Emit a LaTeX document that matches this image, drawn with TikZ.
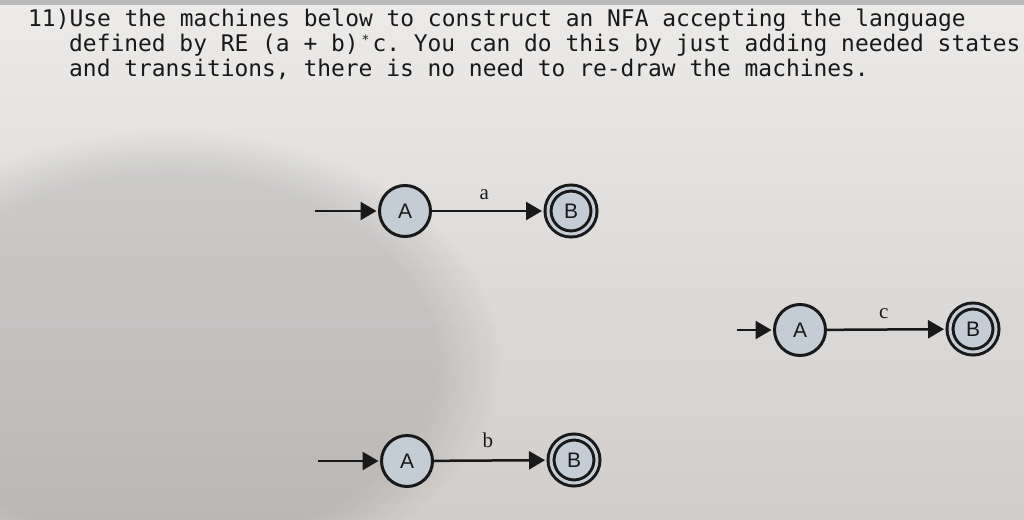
\documentclass[tikz,border=0pt]{standalone}
\usepackage{fontspec}
\setmainfont{Liberation Serif}
\setsansfont{Liberation Sans}
\setmonofont{DejaVu Sans Mono}
\usetikzlibrary{arrows.meta,fadings}
\definecolor{papertop}{RGB}{236,235,234}
\definecolor{paperbot}{RGB}{208,205,203}
\definecolor{statefill}{RGB}{196,204,214}
\definecolor{ink}{RGB}{25,25,25}
\tikzset{
  question/.style={anchor=base west,inner sep=0pt,font=\ttfamily\fontsize{22.9}{24}\selectfont,text=ink},
  state/.style={circle,draw=ink,fill=statefill,line width=3pt,minimum size=51pt,inner sep=0pt,font=\sffamily\fontsize{21}{21}\selectfont,text=ink},
  accept/.style={circle,draw=ink,fill=statefill,line width=3pt,double=statefill,double distance=3pt,minimum size=46pt,inner sep=0pt,font=\sffamily\fontsize{21}{21}\selectfont,text=ink},
  trans/.style={draw=ink,line width=2.5pt,-{Triangle[length=16pt,width=18pt]}},
  sym/.style={font=\rmfamily\fontsize{21}{21}\selectfont,text=ink,inner sep=0pt}
}
\begin{document}
\begin{tikzpicture}[x=1pt,y=-1pt]
\useasboundingbox (0,0) rectangle (1024,519);
\begin{scope}
\clip (0,0) rectangle (1024,519);
\shade[top color=papertop,bottom color=paperbot] (0,0) rectangle (1024,519);
\fill[black,opacity=0.1,path fading=circle with fuzzy edge 20 percent] (170,360) ellipse [x radius=330,y radius=230];
\fill[gray!55] (0,0) rectangle (1024,5);
\end{scope}
% question text
\node[question] (q1) at (28,27) {11)Use the machines below to construct an NFA accepting the language};
\node[question] (q2) at (69,52) {defined by RE (a + b)\makebox[13.8pt][c]{\raisebox{7pt}{\fontsize{13}{13}\selectfont *}}c. You can do this by just adding needed states};
\node[question] (q3) at (69,77) {and transitions, there is no need to re-draw the machines.};
% machine a
\coordinate (s1) at (315,211);
\node[state] (a1) at (405,211) {A};
\node[accept] (b1) at (571,211) {B};
\draw[trans,shorten >=1.5pt] (s1) -- (a1);
\draw[trans,shorten >=4.5pt] (a1) -- node[sym,above=10pt,xshift=-5pt] (la) {a} (b1);
% machine c
\coordinate (s2) at (737,330);
\node[state] (a2) at (800,330) {A};
\node[accept] (b2) at (973,329) {B};
\draw[trans,shorten >=1.5pt] (s2) -- (a2);
\draw[trans,shorten >=4.5pt] (a2) -- node[sym,above=10pt,xshift=-4pt] (lc) {c} (b2);
% machine b
\coordinate (s3) at (318,461);
\node[state] (a3) at (407,461) {A};
\node[accept] (b3) at (574,460) {B};
\draw[trans,shorten >=1.5pt] (s3) -- (a3);
\draw[trans,shorten >=4.5pt] (a3) -- node[sym,above=12pt,xshift=-4pt] (lb) {b} (b3);
\end{tikzpicture}
\end{document}
